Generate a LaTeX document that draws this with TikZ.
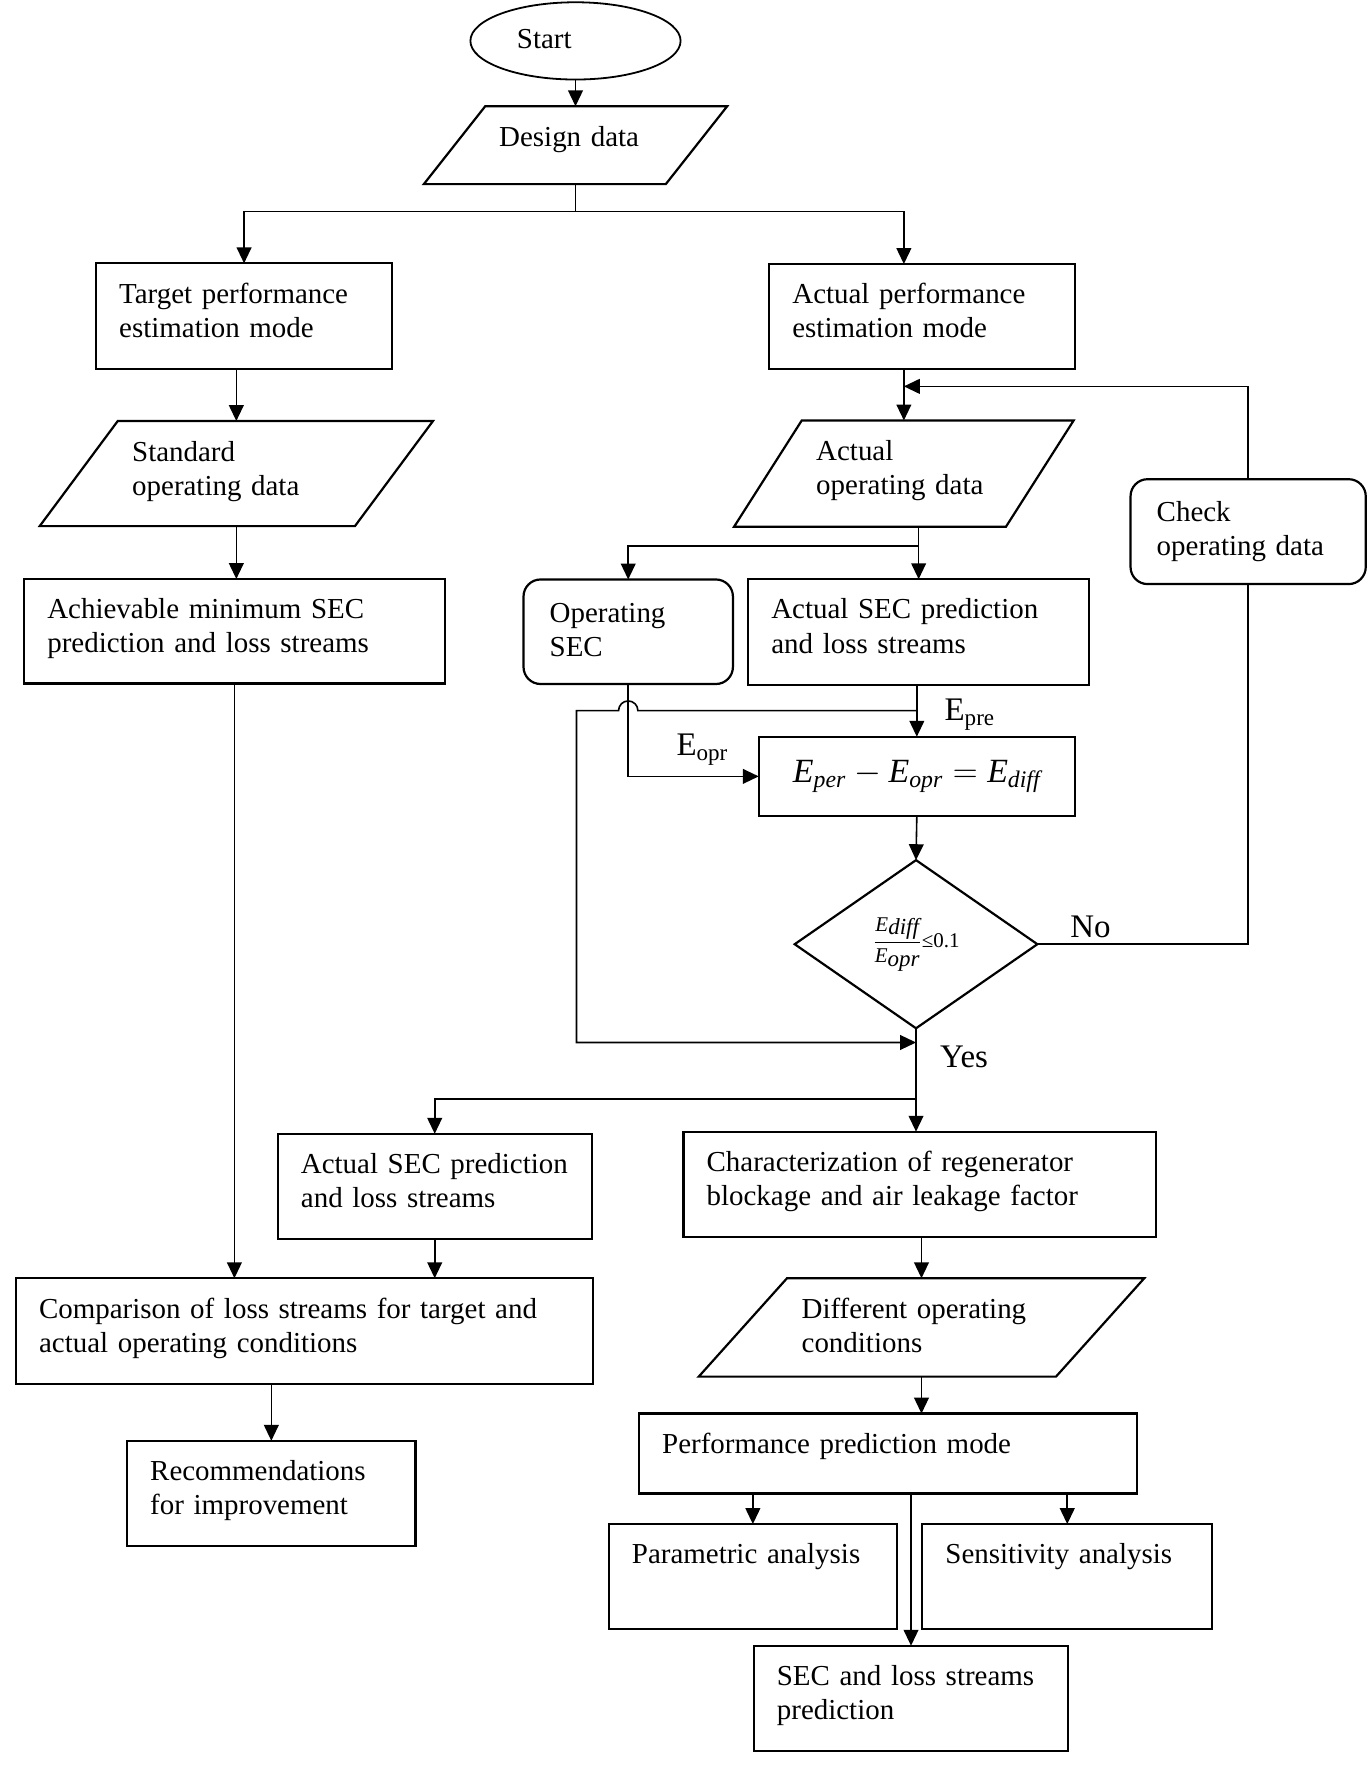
\documentclass[tikz,border=0pt]{standalone}
\usepackage{fontspec}
\usepackage{amsmath}
\setmainfont{Liberation Serif}
\usetikzlibrary{shapes.geometric,arrows.meta}

\def\flowfont{\fontsize{14.5}{17.07}\selectfont}
\def\tagfont{\fontsize{16.5}{19}\selectfont}

\tikzset{
    sz/.style 2 args={minimum width=#1*0.02cm, minimum height=#2*0.02cm},
    box/.style={draw, line width=1.1pt, inner sep=0pt, outer sep=0pt},
    roundbox/.style={box, rounded corners=0.3cm},
    databox/.style n args={4}{box, trapezium, trapezium left angle=#1, trapezium right angle=#2, inner xsep=#3, inner ysep=#4},
    txt/.style={anchor=base west, align=left, text width=10cm, inner sep=0pt, font=\flowfont},
    tag/.style={anchor=base west, inner sep=0pt, font=\tagfont},
    arr/.style={line width=0.8pt, -{Triangle[length=0.28cm, width=0.26cm]}},
    conn/.style={line width=0.8pt}
}

\begin{document}
\begin{tikzpicture}[x=0.02cm, y=-0.02cm]
      \useasboundingbox (0,0) rectangle (1204,1571);
      \node[box, ellipse, sz={185}{68}, line width=0.9pt] (start) at (506.5,36) {};
      \node[databox={51.75}{128.25}{1.59cm}{0.685cm}] (design) at (506.5,127.8) {};
      \node[box, sz={260.5}{92.9}] (target) at (214.8,278.2) {};
      \node[box, sz={269}{92.4}] (actual) at (811.5,278.6) {};
      \node[databox={53.4}{126.6}{2.088cm}{0.925cm}] (standard) at (208,416.8) {};
      \node[databox={57.5}{122.5}{1.798cm}{0.935cm}] (actualop) at (795.5,416.8) {};
      \node[roundbox, sz={207}{92.3}] (check) at (1098.5,467.9) {};
      \node[box, sz={370}{92}] (ach) at (206.3,555.6) {};
      \node[roundbox, sz={184.3}{92}] (opsec) at (552.9,556) {};
      \node[box, sz={300}{93.3}] (actsec) at (808.5,556.4) {};
      \node[box, sz={278.3}{69.8}, font=\fontsize{17}{20}\selectfont] (eqn) at (806.9,683.3)
        {$\text{\itshape E}_{\text{\itshape per}}-\text{\itshape E}_{\text{\itshape opr}}=\text{\itshape E}_{\text{\itshape diff}}$};
      \node[box, diamond, sz={213.6}{148}, font=\fontsize{10.5}{12}\selectfont] (dec) at (806.2,831)
        {$\dfrac{\text{\itshape E\raisebox{-0.35ex}{\fontsize{11.5}{12}\selectfont diff}}}{\text{\itshape E\raisebox{-0.35ex}{\fontsize{11.5}{12}\selectfont opr}}}$≤0.1};
      \node[box, sz={276.2}{92.7}] (actsec2) at (382.6,1044.2) {};
      \node[box, sz={415.5}{92.4}] (char) at (809.3,1042.2) {};
      \node[box, sz={507.9}{93}] (comp) at (268,1171.5) {};
      \node[databox={48.1}{131.9}{2.368cm}{0.866cm}] (diff) at (811,1168.3) {};
      \node[box, sz={253.9}{92.7}] (recom) at (238.8,1314.4) {};
      \node[box, sz={438.5}{70.3}] (perf) at (781.7,1279.2) {};
      \node[box, sz={253.5}{92.5}] (param) at (662.6,1387.6) {};
      \node[box, sz={255.2}{92.5}] (sens) at (939.3,1387.6) {};
      \node[box, sz={276.8}{92.4}] (sec) at (801.8,1494.6) {};

      \node[font=\flowfont, inner sep=0pt, anchor=base] (start-t) at ([shift={(-27.5,7)}]start.center) {Start};
      \node[txt] (design-t) at ([shift={(-67.5,1.2)}]design.center) {Design data};
      \node[txt] (target-t) at ([shift={(20,35)}]target.north west) {Target performance\\estimation mode};
      \node[txt] (actual-t) at ([shift={(20,35)}]actual.north west) {Actual performance\\estimation mode};
      \node[txt] (standard-t) at ([shift={(-92,-10.8)}]standard.center) {Standard\\operating data};
      \node[txt] (actualop-t) at ([shift={(-77.5,-11.8)}]actualop.center) {Actual\\operating data};
      \node[txt] (check-t) at ([shift={(22.7,37.5)}]check.north west) {Check\\operating data};
      \node[txt] (ach-t) at ([shift={(20,35)}]ach.north west) {Achievable minimum SEC\\prediction and loss streams};
      \node[txt] (opsec-t) at ([shift={(22.7,37.5)}]opsec.north west) {Operating\\SEC};
      \node[txt] (actsec-t) at ([shift={(20,35)}]actsec.north west) {Actual SEC prediction\\and loss streams};
      \node[txt] (actsec2-t) at ([shift={(20,35)}]actsec2.north west) {Actual SEC prediction\\and loss streams};
      \node[txt] (char-t) at ([shift={(20,35)}]char.north west) {Characterization of regenerator\\blockage and air leakage factor};
      \node[txt] (comp-t) at ([shift={(20,35)}]comp.north west) {Comparison of loss streams for target and\\actual operating conditions};
      \node[txt] (diff-t) at ([shift={(-105.8,-7.8)}]diff.center) {Different operating\\conditions};
      \node[txt] (recom-t) at ([shift={(20,35)}]recom.north west) {Recommendations\\for improvement};
      \node[txt] (perf-t) at ([shift={(20,35)}]perf.north west) {Performance prediction mode};
      \node[txt] (param-t) at ([shift={(20,35)}]param.north west) {Parametric analysis};
      \node[txt] (sens-t) at ([shift={(20,35)}]sens.north west) {Sensitivity analysis};
      \node[txt] (sec-t) at ([shift={(20,35)}]sec.north west) {SEC and loss streams\\prediction};

      \node[tag] (epre) at ([shift={(24.1,-14.7)}]eqn.north) {E\textsubscript{pre}};
      \node[tag] (eopr) at ([shift={(-72.7,-18.8)}]eqn.west) {E\textsubscript{opr}};
      \node[tag] (no) at ([shift={(28.7,-6)}]dec.east) {No};
      \node[tag] (yes) at ([shift={(20.8,34.5)}]dec.south) {Yes};

      \coordinate (fb) at ([shift={(0,-30)}]actualop.north);
      \coordinate (byp) at ([shift={(0,-23)}]eqn.north);
      \coordinate (hop) at (opsec.south |- byp);
      \coordinate (yesj) at ([shift={(0,12.5)}]dec.south);

      \draw[arr] (start.south) -- (design.north);
      \draw[arr] (design.south) -- ++(0,24) -| (target.north);
      \draw[arr] (design.south) ++(0,24) -| (actual.north -| actualop.north);
      \draw[arr] (target.south -| standard.north) -- (standard.north);
      \draw[arr] (standard.south) -- (standard.south |- ach.north);
      \draw[arr] (ach.south) -- (ach.south |- comp.north);
      \draw[arr] (actual.south -| actualop.north) -- (actualop.north);
      \draw[arr] (check.north) |- (fb);
      \draw[arr] (actualop.south -| actsec.north) -- (actsec.north);
      \draw[arr] (actualop.south -| actsec.north) ++(0,17) -| (opsec.north);
      \draw[arr] (opsec.south) |- (eqn.west);
      \draw[arr] (eqn.north |- actsec.south) -- (eqn.north);
      \draw[arr] (byp) -- ([shift={(8.5,0)}]hop) arc (0:-180:8.5) -- ([shift={(-45.5,0)}]hop) |- (yesj);
      \draw[arr] (eqn.south) -- (dec.north);
      \draw[conn] (dec.east) -| (check.south);
      \draw[arr] (dec.south) -- (dec.south |- char.north);
      \draw[arr] (dec.south) ++(0,62) -| (actsec2.north);
      \draw[arr] (actsec2.south) -- (actsec2.south |- comp.north);
      \draw[arr] (recom.north |- comp.south) -- (recom.north);
      \draw[arr] (char.south -| diff.north) -- (diff.north);
      \draw[arr] (diff.south) -- (diff.south |- perf.north);
      \draw[arr] (perf.south -| param.north) -- (param.north);
      \draw[arr] (perf.south -| sens.north) -- (sens.north);
      \draw[arr] (perf.south -| sec.north) -- (sec.north);
\end{tikzpicture}
\end{document}
